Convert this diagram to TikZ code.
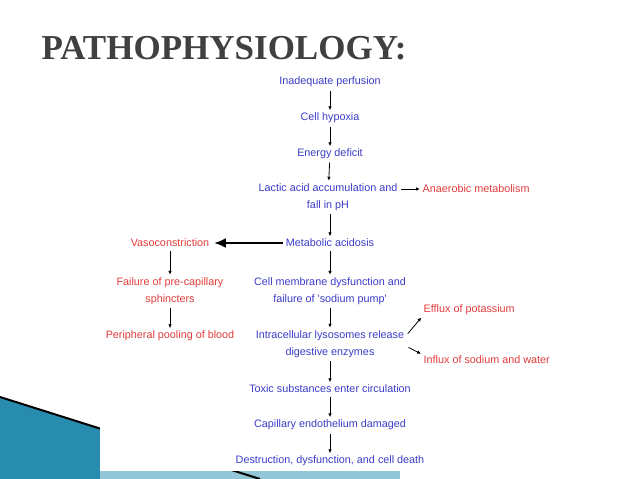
\documentclass[tikz,border=0pt]{standalone}
\usetikzlibrary{arrows.meta}
\usepackage{fontspec}
\setmainfont{Liberation Serif}
\newfontfamily\arial{Liberation Sans}
\definecolor{bt}{RGB}{60,60,200}
\definecolor{rt}{RGB}{225,60,60}
\definecolor{sw}{RGB}{40,140,175}
\begin{document}
\begin{tikzpicture}[x=1pt,y=-1pt,
  b/.style={text=bt,font=\arial\fontsize{10.8}{17}\selectfont,align=center,inner sep=1.5pt},
  r/.style={text=rt,font=\arial\fontsize{10.8}{17}\selectfont,align=center,inner sep=1.5pt},
  ar/.style={-{Latex[length=4pt,width=3.5pt]},black,line width=0.8pt,shorten <=2pt,shorten >=1pt}]
\useasboundingbox (0,0) rectangle (638,479);
\fill[white] (0,0) rectangle (638,479);
\fill[sw] (0,397) -- (260,479) -- (0,479) -- cycle;
\fill[sw!50] (100,471) rectangle (400,479);
\draw[black,line width=2pt] (0,397) -- (260,479);
\fill[white] (100,66) rectangle (566,471);
\node[font=\bfseries\fontsize{35}{38}\selectfont,text=black!75] (t) at (224,48) {PATHOPHYSIOLOGY:};
\node[b] (n1) at (330,82) {Inadequate perfusion};
\node[b] (n2) at (330,118) {Cell hypoxia};
\node[b] (n3) at (330,154) {Energy deficit};
\node[b] (n4) at (328,197) {Lactic acid accumulation and\\fall in pH};
\node[r,anchor=west] (an) at (421,189) {Anaerobic metabolism};
\node[b] (n5) at (330,243) {Metabolic acidosis};
\node[r] (v1) at (170,243) {Vasoconstriction};
\node[r] (v2) at (170,291) {Failure of pre-capillary\\sphincters};
\node[r] (v3) at (170,336) {Peripheral pooling of blood};
\node[b] (n6) at (330,291) {Cell membrane dysfunction and\\failure of 'sodium pump'};
\node[b] (n7) at (330,344) {Intracellular lysosomes release\\digestive enzymes};
\node[r,anchor=west] (e1) at (422,310) {Efflux of potassium};
\node[r,anchor=west] (e2) at (422,360) {Influx of sodium and water};
\node[b] (n8) at (330,389) {Toxic substances enter circulation};
\node[b] (n9) at (330,425) {Capillary endothelium damaged};
\node[b] (n10) at (330,461) {Destruction, dysfunction, and cell death};
\draw[ar] (n1) -- (n2);
\draw[ar] (n2) -- (n3);
\draw[ar] (n3) -- (n4);
\draw[ar] (n4.south -| n5) -- (n5);
\draw[ar] (n4.east |- an) -- (an);
\draw[-{Latex[length=12pt,width=10pt]},line width=2.5pt,shorten <=1pt,shorten >=3pt] (n5) -- (v1);
\draw[ar] (v1) -- (v2);
\draw[ar] (v2) -- (v3);
\draw[ar] (n5) -- (n6);
\draw[ar] (n6) -- (n7);
\draw[ar,shorten <=3pt] (n7.east) ++(0,-8) -- (e1.south west);
\draw[ar,shorten <=3pt] (n7.east) ++(0,2) -- (e2.north west);
\draw[ar] (n7) -- (n8);
\draw[ar] (n8) -- (n9);
\draw[ar] (n9) -- (n10);
\end{tikzpicture}
\end{document}
